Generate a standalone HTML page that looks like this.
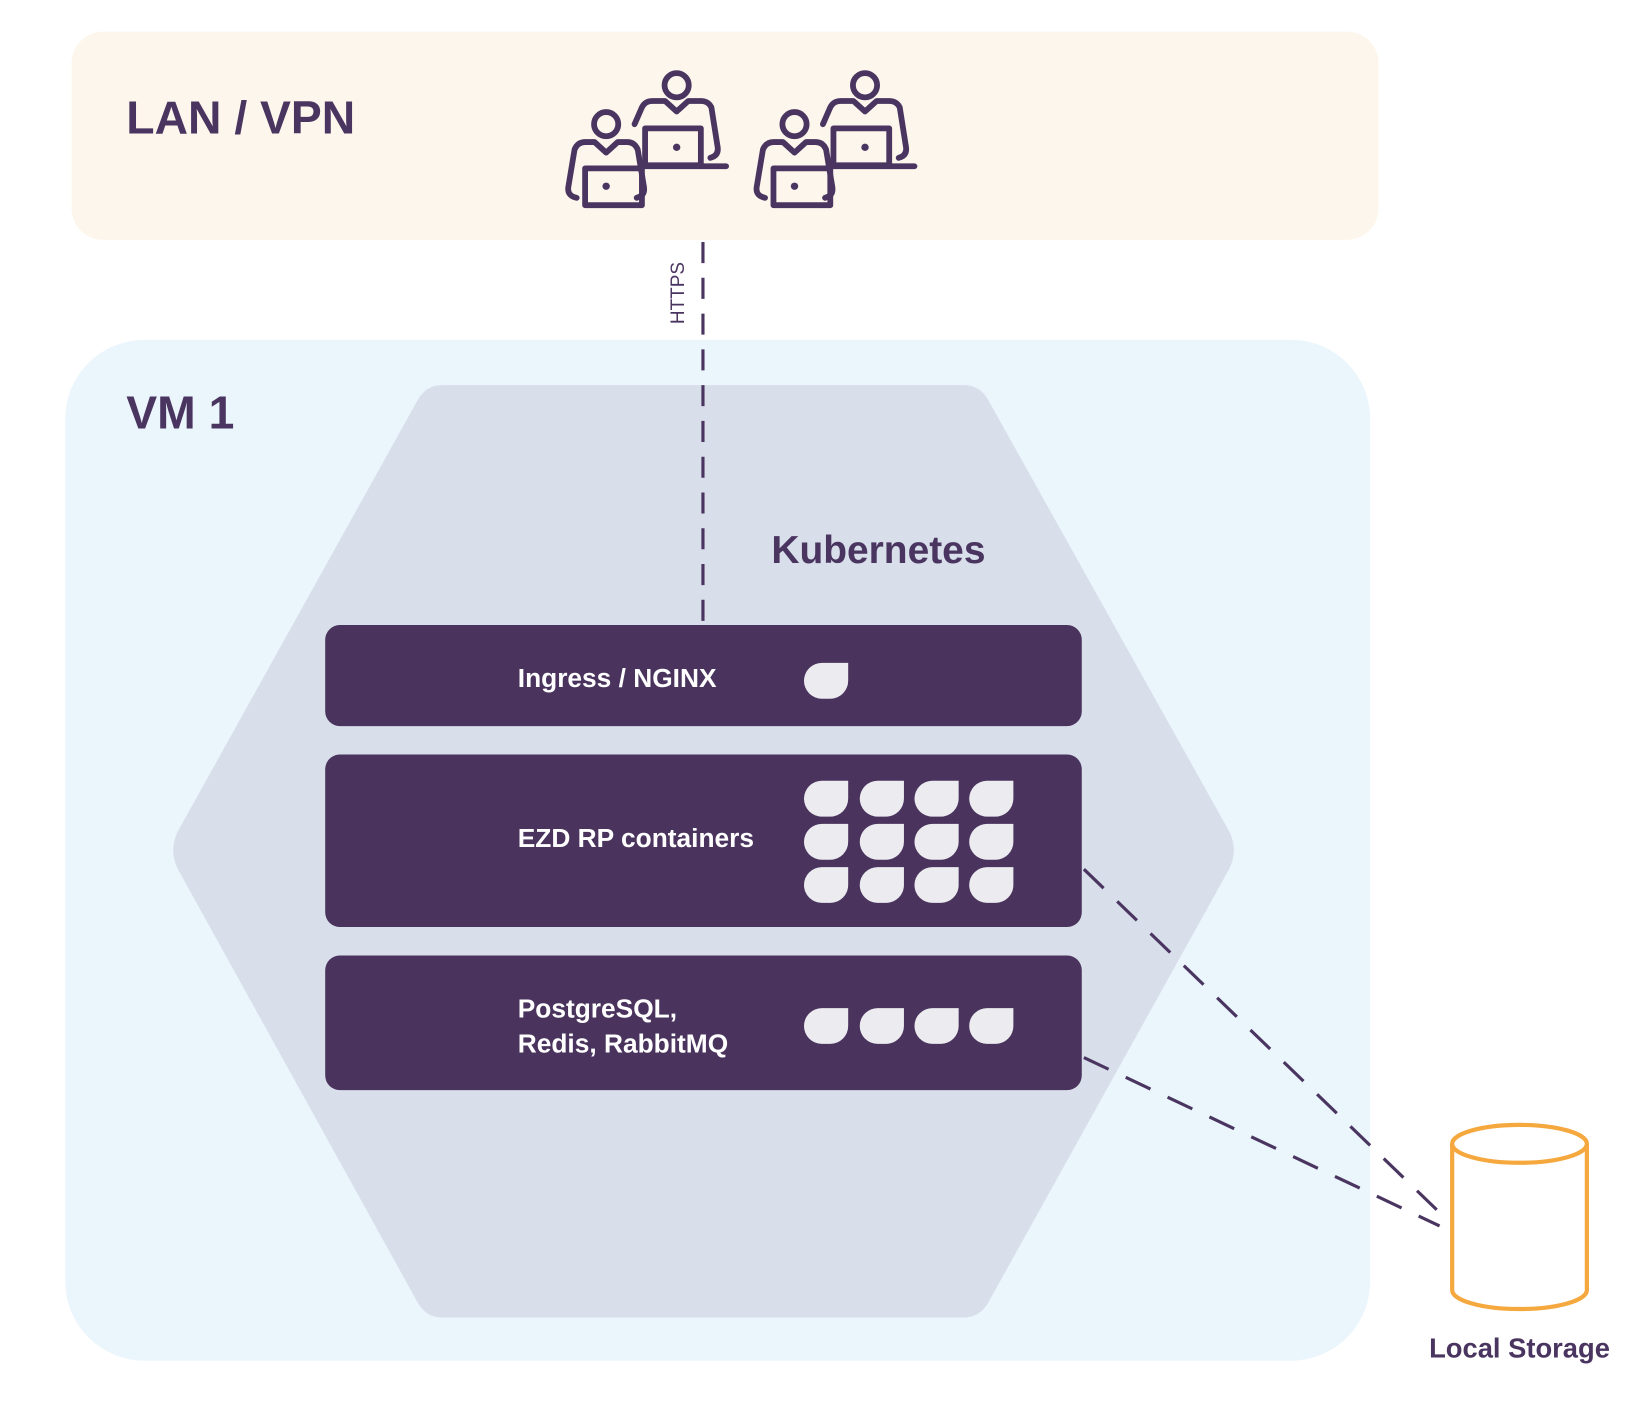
<!DOCTYPE html>
<html><head><meta charset="utf-8"><style>
html,body{margin:0;padding:0;background:#fff;}
svg{display:block;}
text{font-family:"Liberation Sans",sans-serif;}
</style></head><body>
<svg width="1649" height="1417" viewBox="0 0 1567 1346.6" xmlns="http://www.w3.org/2000/svg">
<defs>
<path id="blob" d="M0,17 A17,17 0 0 1 17,0 H42 V17 A17,17 0 0 1 25,34 H17 A17,17 0 0 1 0,17 Z" fill="#ecebf0"/>
<g id="pair" fill="none" stroke="#4a3560" stroke-width="5.5" stroke-linecap="round" stroke-linejoin="round">
<circle cx="643" cy="81" r="11.5"/>
<path d="M603,118 L610,102 Q613,96 620,96 L632,96 L643,106 L654,96 L666,96 Q673,96 676,102 L682,140 Q683,148 675,150"/>
<rect x="613" y="122" width="53" height="35"/>
<path d="M613,158 H690"/>
<circle cx="576" cy="118" r="11.5"/>
<path d="M548,188 Q539,186 540,178 L546,142 Q549,135 556,135 L565,135 L576,145 L587,135 L596,135 Q603,135 606,142 L612,178 Q613,186 605,188"/>
<rect x="556" y="160" width="54" height="35"/>
</g>
</defs>
<rect x="68" y="30" width="1242" height="198" rx="30" fill="#fdf6ec"/>
<text x="120" y="127" font-size="44" font-weight="bold" fill="#4a3560">LAN / VPN</text>
<use href="#pair"/>
<use href="#pair" transform="translate(179,0)"/>
<circle cx="643" cy="140" r="3.5" fill="#4a3560"/>
<circle cx="822" cy="140" r="3.5" fill="#4a3560"/>
<circle cx="576" cy="177" r="3.5" fill="#4a3560"/>
<circle cx="755" cy="177" r="3.5" fill="#4a3560"/>

<rect x="62" y="323" width="1240" height="970" rx="75" fill="#eaf5fc"/>
<text x="120" y="407" font-size="44" font-weight="bold" fill="#4a3560">VM 1</text>
<path d="M420,366 H916 Q931,366 939,380 L1168,790 Q1177,808 1168,826 L939,1238 Q931,1252 916,1252 H420 Q405,1252 397,1238 L169,826 Q160,808 169,790 L397,380 Q405,366 420,366 Z" fill="#d8deea"/>
<text x="733" y="535" font-size="37" font-weight="bold" fill="#4a3560">Kubernetes</text>

<line x1="668" y1="230" x2="668" y2="594" stroke="#4a3560" stroke-width="3" stroke-dasharray="20,14"/>
<text transform="translate(650,308) rotate(-90)" font-size="18" fill="#4a3560">HTTPS</text>

<rect x="309" y="594" width="719" height="96" rx="14" fill="#4a345e"/>
<rect x="309" y="717" width="719" height="164" rx="14" fill="#4a345e"/>
<rect x="309" y="908" width="719" height="128" rx="14" fill="#4a345e"/>
<text x="492" y="653" font-size="25" font-weight="bold" fill="#fff">Ingress / NGINX</text>
<text x="492" y="805" font-size="25" font-weight="bold" fill="#fff">EZD RP containers</text>
<text x="492" y="967" font-size="25" font-weight="bold" fill="#fff">PostgreSQL,</text>
<text x="492" y="1000" font-size="25" font-weight="bold" fill="#fff">Redis, RabbitMQ</text>
<use href="#blob" x="764" y="630"/>
<g>
<use href="#blob" x="764" y="742"/><use href="#blob" x="817" y="742"/><use href="#blob" x="869" y="742"/><use href="#blob" x="921" y="742"/>
<use href="#blob" x="764" y="783"/><use href="#blob" x="817" y="783"/><use href="#blob" x="869" y="783"/><use href="#blob" x="921" y="783"/>
<use href="#blob" x="764" y="824"/><use href="#blob" x="817" y="824"/><use href="#blob" x="869" y="824"/><use href="#blob" x="921" y="824"/>
<use href="#blob" x="764" y="958"/><use href="#blob" x="817" y="958"/><use href="#blob" x="869" y="958"/><use href="#blob" x="921" y="958"/>
</g>

<line x1="1030" y1="826" x2="1374" y2="1158" stroke="#4a3560" stroke-width="3" stroke-dasharray="26,18"/>
<line x1="1030" y1="1005" x2="1368" y2="1165" stroke="#4a3560" stroke-width="3" stroke-dasharray="26,18"/>

<g fill="#fff" stroke="#f5a83e" stroke-width="4">
<path d="M1380,1087 V1226 A64,18 0 0 0 1508,1226 V1087"/>
<ellipse cx="1444" cy="1087" rx="64" ry="18"/>
</g>
<text x="1444" y="1290" font-size="26" font-weight="bold" fill="#4a3560" text-anchor="middle">Local Storage</text>
</svg>
</body></html>
